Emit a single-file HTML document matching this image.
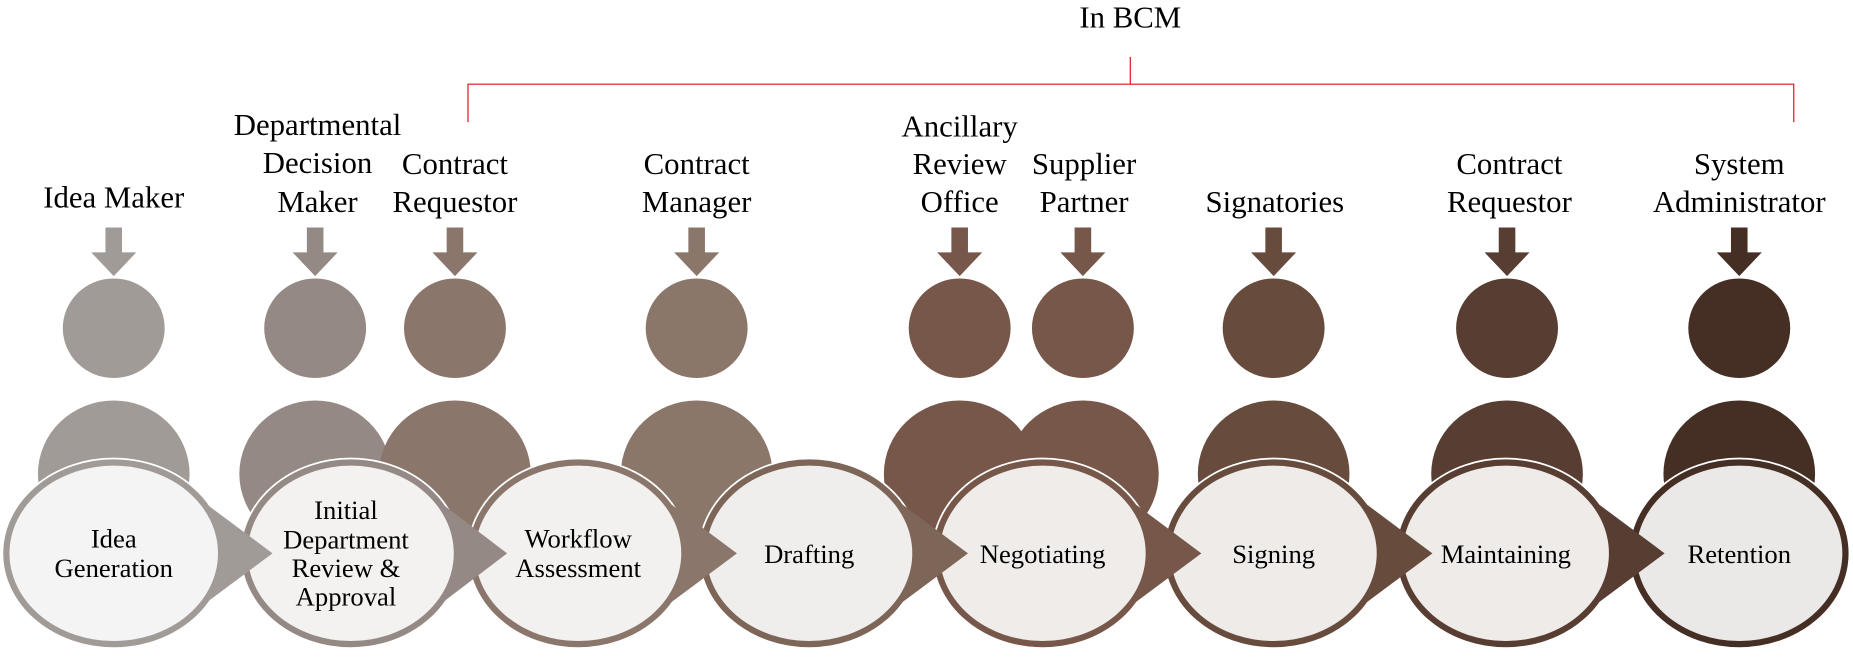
<!DOCTYPE html>
<html><head><meta charset="utf-8"><style>
html,body{margin:0;padding:0;background:#fff;}
svg{display:block;}
text{font-family:"Liberation Serif",serif;fill:#000;text-anchor:middle;}
.l{font-size:26px;}
.c{font-size:22.5px;}
</style></head><body>
<svg width="1853" height="669" viewBox="0 0 1564 564.6" xmlns="http://www.w3.org/2000/svg">
<g stroke="#e0101a" stroke-width="1" fill="none">
<polyline points="395,103 395,71 1514,71 1514,103"/>
<line x1="954" y1="71" x2="954" y2="48"/>
</g>
<text class="l" x="954" y="23">In BCM</text>

<text class="l" x="96" y="175">Idea Maker</text>
<text class="l" x="268" y="114">Departmental</text>
<text class="l" x="268" y="146">Decision</text>
<text class="l" x="268" y="179">Maker</text>
<text class="l" x="384" y="147">Contract</text>
<text class="l" x="384" y="179">Requestor</text>
<text class="l" x="588" y="147">Contract</text>
<text class="l" x="588" y="179">Manager</text>
<text class="l" x="810" y="115">Ancillary</text>
<text class="l" x="810" y="147">Review</text>
<text class="l" x="810" y="179">Office</text>
<text class="l" x="915" y="147">Supplier</text>
<text class="l" x="915" y="179">Partner</text>
<text class="l" x="1076" y="179">Signatories</text>
<text class="l" x="1274" y="147">Contract</text>
<text class="l" x="1274" y="179">Requestor</text>
<text class="l" x="1468" y="147">System</text>
<text class="l" x="1468" y="179">Administrator</text>

<g>
<g fill="#a19b98"><polygon points="89,192 103,192 103,213 115,213 96,233 77,213 89,213"/><ellipse cx="96" cy="277" rx="43" ry="42"/><ellipse cx="96" cy="400" rx="64" ry="62"/></g>
<g fill="#958985"><polygon points="259,192 273,192 273,213 285,213 266,233 247,213 259,213"/><ellipse cx="266" cy="277" rx="43" ry="42"/><ellipse cx="266" cy="400" rx="64" ry="62"/></g>
<g fill="#8b766b"><polygon points="377,192 391,192 391,213 403,213 384,233 365,213 377,213"/><ellipse cx="384" cy="277" rx="43" ry="42"/><ellipse cx="384" cy="400" rx="64" ry="62"/></g>
<g fill="#8b766a"><polygon points="581,192 595,192 595,213 607,213 588,233 569,213 581,213"/><ellipse cx="588" cy="277" rx="43" ry="42"/><ellipse cx="588" cy="400" rx="64" ry="62"/></g>
<g fill="#76574a"><polygon points="803,192 817,192 817,213 829,213 810,233 791,213 803,213"/><ellipse cx="810" cy="277" rx="43" ry="42"/><ellipse cx="810" cy="400" rx="64" ry="62"/></g>
<g fill="#76574a"><polygon points="907,192 921,192 921,213 933,213 914,233 895,213 907,213"/><ellipse cx="914" cy="277" rx="43" ry="42"/><ellipse cx="914" cy="400" rx="64" ry="62"/></g>
<g fill="#674c3e"><polygon points="1068,192 1082,192 1082,213 1094,213 1075,233 1056,213 1068,213"/><ellipse cx="1075" cy="277" rx="43" ry="42"/><ellipse cx="1075" cy="400" rx="64" ry="62"/></g>
<g fill="#583e32"><polygon points="1265,192 1279,192 1279,213 1291,213 1272,233 1253,213 1265,213"/><ellipse cx="1272" cy="277" rx="43" ry="42"/><ellipse cx="1272" cy="400" rx="64" ry="62"/></g>
<g fill="#452f24"><polygon points="1461,192 1475,192 1475,213 1487,213 1468,233 1449,213 1461,213"/><ellipse cx="1468" cy="277" rx="43" ry="42"/><ellipse cx="1468" cy="400" rx="64" ry="62"/></g>
</g>

<g>
<g><ellipse cx="1468" cy="467" rx="93" ry="80" fill="#452f24" stroke="#fff" stroke-width="1.5"/><ellipse cx="1468" cy="467" rx="87" ry="74" fill="#ebe9e7"/></g>
<g><ellipse cx="1271" cy="467" rx="93" ry="80" fill="#583e32" stroke="#fff" stroke-width="1.5"/><polygon points="1311,397 1405,467 1311,537" fill="#583e32"/><ellipse cx="1271" cy="467" rx="87" ry="74" fill="#eeebe9"/></g>
<g><ellipse cx="1075" cy="467" rx="93" ry="80" fill="#674c3e" stroke="#fff" stroke-width="1.5"/><polygon points="1115,397 1209,467 1115,537" fill="#674c3e"/><ellipse cx="1075" cy="467" rx="87" ry="74" fill="#eeebe9"/></g>
<g><ellipse cx="880" cy="467" rx="93" ry="80" fill="#76574a" stroke="#fff" stroke-width="1.5"/><polygon points="920,397 1014,467 920,537" fill="#76574a"/><ellipse cx="880" cy="467" rx="87" ry="74" fill="#efecea"/></g>
<g><ellipse cx="683" cy="467" rx="93" ry="80" fill="#7d6558" stroke="#fff" stroke-width="1.5"/><polygon points="723,397 817,467 723,537" fill="#7d6558"/><ellipse cx="683" cy="467" rx="87" ry="74" fill="#f0eeec"/></g>
<g><ellipse cx="488" cy="467" rx="93" ry="80" fill="#8b766b" stroke="#fff" stroke-width="1.5"/><polygon points="528,397 622,467 528,537" fill="#8b766b"/><ellipse cx="488" cy="467" rx="87" ry="74" fill="#f2f1f0"/></g>
<g><ellipse cx="296" cy="467" rx="93" ry="80" fill="#958985" stroke="#fff" stroke-width="1.5"/><polygon points="336,397 428,467 336,537" fill="#958985"/><ellipse cx="296" cy="467" rx="87" ry="74" fill="#f3f2f1"/></g>
<g><ellipse cx="96" cy="467" rx="94" ry="80" fill="#a19b98" stroke="#fff" stroke-width="1.5"/><polygon points="136,397 230,467 136,537" fill="#a19b98"/><ellipse cx="96" cy="467" rx="88" ry="74" fill="#f4f4f4"/></g>
</g>

<text class="c" x="96" y="462">Idea</text>
<text class="c" x="96" y="487">Generation</text>
<text class="c" x="292" y="438">Initial</text>
<text class="c" x="292" y="463">Department</text>
<text class="c" x="292" y="487">Review &amp;</text>
<text class="c" x="292" y="511">Approval</text>
<text class="c" x="488" y="462">Workflow</text>
<text class="c" x="488" y="487">Assessment</text>
<text class="c" x="683" y="475">Drafting</text>
<text class="c" x="880" y="475">Negotiating</text>
<text class="c" x="1075" y="475">Signing</text>
<text class="c" x="1271" y="475">Maintaining</text>
<text class="c" x="1468" y="475">Retention</text>
</svg>
</body></html>
